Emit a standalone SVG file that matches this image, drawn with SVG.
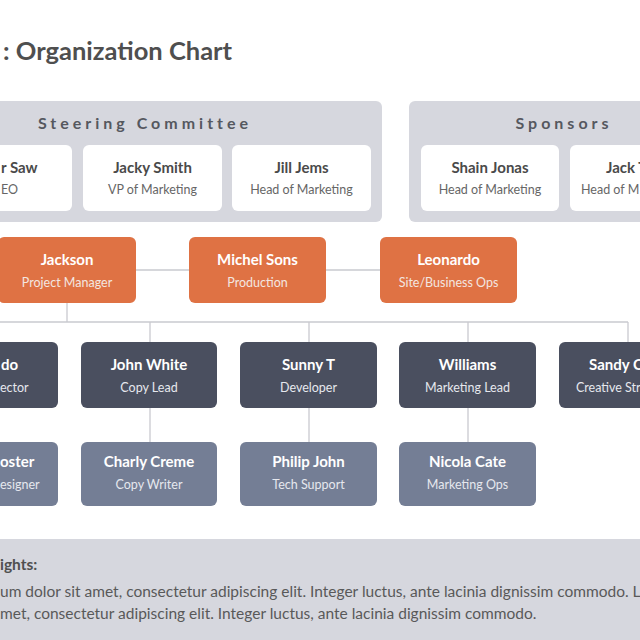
<svg xmlns="http://www.w3.org/2000/svg" width="640" height="640" viewBox="0 0 640 640">
<style>
.panel{fill:#d6d7de}
.card{fill:#ffffff}
.org{fill:#df7244}
.dark{fill:#4a4f5f}
.light{fill:#747e95}
.conn{stroke:#c9cacf;stroke-width:1.3;fill:none}
text{font-family:Lato,"Open Sans","Liberation Sans",sans-serif}
.nm{font-size:15px;font-weight:bold;text-anchor:middle}
.sb{font-size:12.5px;text-anchor:middle}
.st{text-anchor:start}
.cn{fill:#4a4a4a}
.cs{fill:#666666}
.wn{fill:#ffffff}
.ws{fill:#f3e6e0}
.dn{fill:#ffffff}
.ds{fill:#e6e8ee}
.hd{font-size:16px;font-weight:bold;fill:#55585f;letter-spacing:4px;text-anchor:middle}
.bt{font-size:15.5px;fill:#595959}
</style>
<rect width="640" height="640" fill="#ffffff"/>
<text x="3" y="60" font-size="25.5" font-weight="bold" fill="#4f4f4f">: Organization Chart</text>

<g id="steering">
<rect class="panel" x="-20" y="101" width="402" height="121" rx="6"/>
<text class="hd" x="145" y="129">Steering Committee</text>
</g>
<g id="sponsors">
<rect class="panel" x="409" y="101" width="260" height="121" rx="6"/>
<text class="hd" x="564" y="129">Sponsors</text>
</g>

<g id="card-saw"><rect class="card" x="-66" y="145" width="138" height="66" rx="6"/>
<text class="nm cn st" x="1" y="173">r Saw</text>
<text class="sb cs st" x="1" y="194">EO</text></g>
<g id="card-jacky"><rect class="card" x="83" y="145" width="139" height="66" rx="6"/>
<text class="nm cn" x="152.5" y="173">Jacky Smith</text>
<text class="sb cs" x="152.5" y="194">VP of Marketing</text></g>
<g id="card-jill"><rect class="card" x="232" y="145" width="139" height="66" rx="6"/>
<text class="nm cn" x="301.5" y="173">Jill Jems</text>
<text class="sb cs" x="301.5" y="194">Head of Marketing</text></g>
<g id="card-shain"><rect class="card" x="421" y="145" width="138" height="66" rx="6"/>
<text class="nm cn" x="490" y="173">Shain Jonas</text>
<text class="sb cs" x="490" y="194">Head of Marketing</text></g>
<g id="card-jack"><rect class="card" x="570" y="145" width="138" height="66" rx="6"/>
<text class="nm cn st" x="606" y="173">Jack T</text>
<text class="sb cs st" x="581" y="194">Head of M</text></g>

<g id="connectors">
<line class="conn" x1="136" y1="270" x2="380" y2="270"/>
<line class="conn" x1="67" y1="303" x2="67" y2="322"/>
<line class="conn" x1="0" y1="322" x2="628" y2="322"/>
<line class="conn" x1="150" y1="322" x2="150" y2="342"/>
<line class="conn" x1="309" y1="322" x2="309" y2="342"/>
<line class="conn" x1="468" y1="322" x2="468" y2="342"/>
<line class="conn" x1="628" y1="322" x2="628" y2="342"/>
<line class="conn" x1="150" y1="408" x2="150" y2="442"/>
<line class="conn" x1="309" y1="408" x2="309" y2="442"/>
<line class="conn" x1="468" y1="408" x2="468" y2="442"/>
</g>

<g id="jackson"><rect class="org" x="-2" y="237" width="138" height="66" rx="6"/>
<text class="nm wn" x="67" y="265">Jackson</text>
<text class="sb ws" x="67" y="287">Project Manager</text></g>
<g id="michel"><rect class="org" x="189" y="237" width="137" height="66" rx="6"/>
<text class="nm wn" x="257.5" y="265">Michel Sons</text>
<text class="sb ws" x="257.5" y="287">Production</text></g>
<g id="leonardo"><rect class="org" x="380" y="237" width="137" height="66" rx="6"/>
<text class="nm wn" x="448.5" y="265">Leonardo</text>
<text class="sb ws" x="448.5" y="287">Site/Business Ops</text></g>

<g id="dark-1"><rect class="dark" x="-80" y="342" width="138" height="66" rx="6"/>
<text class="nm dn st" x="1" y="370">do</text>
<text class="sb ds st" x="0" y="392">ector</text></g>
<g id="john"><rect class="dark" x="81" y="342" width="136" height="66" rx="6"/>
<text class="nm dn" x="149" y="370">John White</text>
<text class="sb ds" x="149" y="392">Copy Lead</text></g>
<g id="sunny"><rect class="dark" x="240" y="342" width="137" height="66" rx="6"/>
<text class="nm dn" x="308.5" y="370">Sunny T</text>
<text class="sb ds" x="308.5" y="392">Developer</text></g>
<g id="williams"><rect class="dark" x="399" y="342" width="137" height="66" rx="6"/>
<text class="nm dn" x="467.5" y="370">Williams</text>
<text class="sb ds" x="467.5" y="392">Marketing  Lead</text></g>
<g id="sandy"><rect class="dark" x="559" y="342" width="137" height="66" rx="6"/>
<text class="nm dn st" x="589" y="370">Sandy C</text>
<text class="sb ds st" x="576" y="392">Creative Str</text></g>

<g id="light-1"><rect class="light" x="-80" y="442" width="138" height="64" rx="6"/>
<text class="nm dn st" x="0" y="467">oster</text>
<text class="sb ds st" x="0" y="489">esigner</text></g>
<g id="charly"><rect class="light" x="81" y="442" width="136" height="64" rx="6"/>
<text class="nm dn" x="149" y="467">Charly Creme</text>
<text class="sb ds" x="149" y="489">Copy Writer</text></g>
<g id="philip"><rect class="light" x="240" y="442" width="137" height="64" rx="6"/>
<text class="nm dn" x="308.5" y="467">Philip John</text>
<text class="sb ds" x="308.5" y="489">Tech Support</text></g>
<g id="nicola"><rect class="light" x="399" y="442" width="137" height="64" rx="6"/>
<text class="nm dn" x="467.5" y="467">Nicola Cate</text>
<text class="sb ds" x="467.5" y="489">Marketing  Ops</text></g>

<g id="highlights">
<rect class="panel" x="-10" y="539" width="660" height="110"/>
<text x="0" y="570" font-size="15.5" font-weight="bold" fill="#505050">ights:</text>
<text class="bt" x="0" y="597">um dolor sit amet, consectetur adipiscing elit.  Integer luctus, ante lacinia dignissim commodo. L</text>
<text class="bt" x="0" y="619">met, consectetur adipiscing elit.  Integer luctus, ante lacinia dignissim commodo.</text>
</g>
</svg>
